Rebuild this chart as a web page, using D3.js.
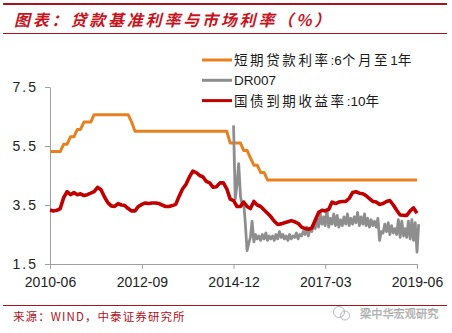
<!DOCTYPE html>
<html><head><meta charset="utf-8">
<script src="https://cdn.jsdelivr.net/npm/d3@7"></script>
<style>
html,body{margin:0;padding:0;background:#fff;}
svg{display:block;}
</style></head>
<body>
<svg id="c" width="452" height="333"></svg>
<script>
// ---- data ----
const titleText = "图表：贷款基准利率与市场利率（%）";
const sourceText = "来源：WIND，中泰证券研究所";
const watermarkText = "梁中华宏观研究";
const seriesNames = ["短期贷款利率:6个月至1年", "DR007", "国债到期收益率:10年"];
const yTicks = [1.5, 3.5, 5.5, 7.5];
const xTickLabels = ["2010-06", "2012-09", "2014-12", "2017-03", "2019-06"];
const monthlyStart = "2010-06";   // monthly series start (one value per month)
const drStart = "2014-12";        // DR007 start (two values per month: 1st, 16th)

// loan benchmark rate 6m-1y, monthly 2010-06 .. 2019-06
const loanRate = [
 5.31,5.31,5.31,5.31,5.56,5.56,5.81,            // 2010-06..12
 5.81,6.06,6.06,6.31,6.31,6.31,6.56,6.56,6.56,6.56,6.56,6.56, // 2011
 6.56,6.56,6.56,6.56,6.56,6.31,6.00,6.00,6.00,6.00,6.00,6.00, // 2012
 6.00,6.00,6.00,6.00,6.00,6.00,6.00,6.00,6.00,6.00,6.00,6.00, // 2013
 6.00,6.00,6.00,6.00,6.00,6.00,6.00,6.00,6.00,6.00,5.60,5.60, // 2014
 5.60,5.60,5.35,5.35,5.10,4.85,4.85,4.60,4.60,4.35,4.35,4.35, // 2015
 4.35,4.35,4.35,4.35,4.35,4.35,4.35,4.35,4.35,4.35,4.35,4.35, // 2016
 4.35,4.35,4.35,4.35,4.35,4.35,4.35,4.35,4.35,4.35,4.35,4.35, // 2017
 4.35,4.35,4.35,4.35,4.35,4.35,4.35,4.35,4.35,4.35,4.35,4.35, // 2018
 4.35,4.35,4.35,4.35,4.35,4.35                               // 2019-01..06
];

// 10Y government bond yield, monthly 2010-06 .. 2019-06
const cgb10y = [
 3.33,3.30,3.32,3.38,3.75,3.95,3.85,             // 2010-06..12
 3.92,3.85,3.88,3.82,3.85,3.90,3.95,4.10,4.02,3.78,3.58,3.47, // 2011
 3.45,3.55,3.50,3.48,3.38,3.30,3.30,3.45,3.52,3.57,3.55,3.57, // 2012
 3.57,3.55,3.50,3.45,3.45,3.48,3.52,3.80,4.05,4.20,4.45,4.65, // 2013
 4.60,4.50,4.45,4.30,4.25,4.10,4.12,4.25,4.25,4.05,3.70,3.65, // 2014
 3.45,3.45,3.60,3.45,3.38,3.62,3.50,3.45,3.33,3.22,3.10,2.95, // 2015
 2.84,2.86,2.90,2.93,2.97,2.93,2.88,2.75,2.70,2.68,2.72,2.98, // 2016
 3.25,3.32,3.30,3.35,3.60,3.55,3.60,3.62,3.62,3.72,3.92,3.95, // 2017
 3.90,3.88,3.82,3.72,3.62,3.60,3.52,3.55,3.62,3.65,3.50,3.32, // 2018
 3.16,3.15,3.15,3.30,3.40,3.22                               // 2019-01..06
];

// DR007, twice monthly 2014-12 .. 2019-06
const dr007 = [
 6.20,3.70,  4.20,4.90,  3.80,3.50,  3.60,2.90,  1.95,2.20,  2.40,2.95, // 2014-12..2015-05
 2.25,2.50,  2.35,2.45,  2.30,2.50,  2.35,2.55,  2.30,2.45,  2.35,2.45, // 2015-06..11
 2.30,2.50,  2.35,2.60,  2.40,2.50,  2.35,2.45,  2.30,2.50,  2.35,2.45, // 2015-12..2016-05
 2.40,2.55,  2.35,2.50,  2.45,2.60,  2.50,2.75,  2.45,2.70,  2.60,2.85, // 2016-06..11
 2.70,3.05,  2.75,3.20,  2.85,3.10,  2.80,3.35,  2.75,3.05,  2.85,3.20, // 2016-12..2017-05
 2.80,3.15,  2.75,3.00,  2.80,3.10,  2.85,3.20,  2.80,3.05,  2.85,3.10, // 2017-06..11
 2.90,3.25,  2.80,3.10,  2.85,3.20,  2.80,3.05,  2.75,3.00,  2.80,2.95, // 2017-12..2018-05
 2.75,3.05,  2.30,2.60,  2.55,2.85,  2.60,2.90,  2.50,2.80,  2.55,2.70, // 2018-06..11
 2.50,3.00,  2.40,2.95,  2.45,2.70,  2.40,2.95,  2.35,3.00,  2.30,2.90, // 2018-12..2019-05
 1.90,2.85                                                              // 2019-06
];

// ---- build dated rows ----
const parseYM = d3.timeParse("%Y-%m");
const m0 = parseYM(monthlyStart);
const loanRows = loanRate.map((v, i) => ({ date: d3.timeMonth.offset(m0, i), v }));
const cgbRows = cgb10y.map((v, i) => ({ date: d3.timeMonth.offset(m0, i), v }));
const d0 = parseYM(drStart);
const drRows = dr007.map((v, i) => {
  const dt = d3.timeMonth.offset(d0, Math.floor(i / 2));
  if (i % 2) dt.setDate(16);
  return { date: dt, v };
});

// ---- chart ----
const svg = d3.select("#c");
svg.append("rect").attr("width", 452).attr("height", 333).attr("fill", "#fff");

const RULE = "#a8141c";
const TITLE_RED = "#c8141e";
// rules
svg.append("line").attr("x1", 3).attr("x2", 447).attr("y1", 4).attr("y2", 4)
  .attr("stroke", RULE).attr("stroke-width", 2);
svg.append("line").attr("x1", 3).attr("x2", 447).attr("y1", 33.5).attr("y2", 33.5)
  .attr("stroke", RULE).attr("stroke-width", 1);
svg.append("line").attr("x1", 3).attr("x2", 447).attr("y1", 305.5).attr("y2", 305.5)
  .attr("stroke", RULE).attr("stroke-width", 1);

svg.append("text").attr("x", 14).attr("y", 26)
  .attr("font-family", "'Noto Sans CJK SC'").attr("font-size", 16).attr("font-weight", "bold")
  .attr("font-style", "italic").attr("letter-spacing", 2.8)
  .attr("fill", TITLE_RED).text(titleText);

svg.append("text").attr("x", 13).attr("y", 321)
  .attr("font-family", "'Noto Sans CJK SC'").attr("font-size", 11.5)
  .attr("letter-spacing", 1.1)
  .attr("fill", "#b3121b").text(sourceText);

// watermark
const wm = svg.append("g").attr("fill", "none").attr("stroke", "#b8b8b8");
wm.append("circle").attr("cx", 339).attr("cy", 312).attr("r", 5.5).attr("stroke-width", 1);
wm.append("circle").attr("cx", 345).attr("cy", 315.5).attr("r", 4.5).attr("stroke-width", 1);
svg.append("text").attr("x", 360).attr("y", 317.5)
  .attr("font-family", "'Noto Sans CJK SC'").attr("font-size", 11.2)
  .attr("fill", "#c4c4c4").attr("stroke", "#9a9a9a").attr("stroke-width", 0.3)
  .text(watermarkText);

const x = d3.scaleTime().domain([parseYM("2010-06"), parseYM("2019-06")]).range([50, 417]);
const y = d3.scaleLinear().domain([1.5, 7.5]).range([264, 87]);

const AX = "#a0a0a0";
const yAxis = svg.append("g").attr("transform", "translate(50,0)")
  .call(d3.axisLeft(y).tickValues(yTicks).tickSize(5).tickSizeOuter(0).tickPadding(7)
    .tickFormat(d3.format(".1f")));
yAxis.select(".domain").attr("stroke", AX);
yAxis.selectAll(".tick line").attr("stroke", AX);
yAxis.selectAll("text").attr("font-family", "Liberation Sans, Arial").attr("font-size", 14)
  .attr("letter-spacing", 2).attr("fill", "#222");

const xAxis = svg.append("g").attr("transform", "translate(0,264)")
  .call(d3.axisBottom(x).tickValues(xTickLabels.map(parseYM)).tickSize(5).tickSizeOuter(0)
    .tickPadding(8).tickFormat(d3.timeFormat("%Y-%m")));
xAxis.select(".domain").attr("stroke", AX);
xAxis.selectAll(".tick line").attr("stroke", AX);
xAxis.selectAll("text").attr("font-family", "Liberation Sans, Arial").attr("font-size", 14)
  .attr("fill", "#222");

const line = d3.line().x(d => x(d.date)).y(d => y(d.v));
const colors = ["#e8801f", "#8e8e8e", "#c00000"];
const widths = [3, 2.8, 3.6];

svg.append("path").datum(loanRows).attr("d", line).attr("fill", "none")
  .attr("stroke", colors[0]).attr("stroke-width", widths[0]).attr("stroke-linejoin", "round");
svg.append("path").datum(drRows).attr("d", line).attr("fill", "none")
  .attr("stroke", colors[1]).attr("stroke-width", widths[1]).attr("stroke-linejoin", "round");
svg.append("path").datum(cgbRows).attr("d", line).attr("fill", "none")
  .attr("stroke", colors[2]).attr("stroke-width", widths[2]).attr("stroke-linejoin", "round");

// legend
const lg = svg.append("g");
seriesNames.forEach((name, i) => {
  const yy = 60 + i * 20.3;
  lg.append("line").attr("x1", 202).attr("x2", 232).attr("y1", yy).attr("y2", yy)
    .attr("stroke", colors[i]).attr("stroke-width", 3);
  const t = lg.append("text").attr("x", 234).attr("y", yy + 5)
    .attr("font-size", 13.5).attr("fill", "#1a1a1a");
  const parts = name.match(/[\u3000-\u9fff\uff00-\uffef]+|[^\u3000-\u9fff\uff00-\uffef]+/g);
  parts.forEach(p => {
    const cjk = /[\u3000-\u9fff]/.test(p);
    t.append("tspan").text(p)
      .attr("font-family", cjk ? "'Noto Sans CJK SC'" : "Liberation Sans, Arial")
      .attr("letter-spacing", cjk ? 2.6 : 0);
  });
});
</script>
</body></html>
